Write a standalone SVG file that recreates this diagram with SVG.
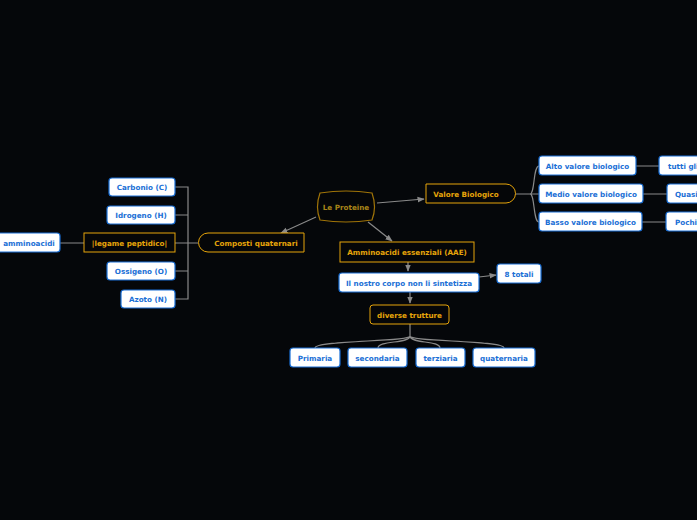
<svg xmlns="http://www.w3.org/2000/svg" width="697" height="520" viewBox="0 0 697 520">
<defs>
<style>
text{font-family:"DejaVu Sans",sans-serif;font-size:7.2px;font-weight:bold;text-anchor:middle;dominant-baseline:central}
.b rect{fill:#fff;stroke:#1a6fd6;stroke-width:1.2}
.b text{fill:#1a6fd6}
.g rect,.g path{fill:#050608;stroke:#e6a40a;stroke-width:1}
.g text{fill:#e6a40a}
.c{fill:none;stroke:#8a8a8a;stroke-width:1.2}
</style>
<marker id="a" viewBox="0 0 10 10" refX="9" refY="5" markerWidth="6" markerHeight="6" orient="auto"><path d="M0,1 L10,5 L0,9z" fill="#8a8a8a"/></marker>
</defs>
<rect width="697" height="520" fill="#05070a"/>
<g id="connectors" class="c">
<path d="M377,203 L424,199" marker-end="url(#a)"/>
<path d="M316,217 L281,233" marker-end="url(#a)"/>
<path d="M368,222 L392,241" marker-end="url(#a)"/>
<path d="M408,262 L408,271" marker-end="url(#a)"/>
<path d="M479,277 L496,275" marker-end="url(#a)"/>
<path d="M410,292 L410,303" marker-end="url(#a)"/>
<path d="M515,194 L530,194 M530,194 C535,194 533,166 539,166 M530,194 L539,194 M530,194 C535,194 533,222 539,222"/>
<path d="M636,166 L659,166 M643,194 L667,194 M642,222 L666,222"/>
<path d="M198,243 L188,243 M175,187 L188,187 L188,299 L175,299 M175,215 L188,215 M175,271 L188,271 M175,243 L188,243 M84,243 L60,243"/>
<path d="M410,324 L410,336 C410,342 315,340 315,348 M410,336 C410,344 378,340 378,348 M410,336 C410,344 440,340 440,348 M410,336 C410,342 504,340 504,348"/>
</g>
<g id="n-proteine"><path d="M320,193 Q346,189 372,193 Q377,207 372,220 Q346,224 320,220 Q315,207 320,193z" fill="#050608" stroke="#a07408" stroke-width="1.2"/><text x="346" y="207" fill="#a88418">Le Proteine</text></g>
<g id="n-valore" class="g"><path d="M426,184 H506 A9.5,9.5 0 0 1 506,203 H426z"/><text x="466" y="194">Valore Biologico</text></g>
<g id="n-alto" class="b"><rect x="539" y="156" width="97" height="19" rx="3"/><text x="587.5" y="166">Alto valore biologico</text></g>
<g id="n-medio" class="b"><rect x="539" y="184" width="104" height="19" rx="3"/><text x="591" y="194">Medio valore biologico</text></g>
<g id="n-basso" class="b"><rect x="539" y="212" width="103" height="19" rx="3"/><text x="590.5" y="222">Basso valore biologico</text></g>
<g id="n-tutti" class="b"><rect x="659" y="156" width="60" height="19" rx="3"/><text x="668" y="166" style="text-anchor:start">tutti gli</text></g>
<g id="n-quasi" class="b"><rect x="667" y="184" width="60" height="19" rx="3"/><text x="675" y="194" style="text-anchor:start">Quasi</text></g>
<g id="n-pochi" class="b"><rect x="666" y="212" width="60" height="19" rx="3"/><text x="675" y="222" style="text-anchor:start">Pochi</text></g>
<g id="n-composti" class="g"><path d="M208,233 H304 V252 H208 A9.5,9.5 0 0 1 208,233z"/><text x="256" y="243">Composti quaternari</text></g>
<g id="n-legame" class="g"><rect x="84" y="233" width="91" height="19"/><text x="129.5" y="243">|legame peptidico|</text></g>
<g id="n-ammino" class="b"><rect x="-6" y="233" width="66" height="19" rx="3"/><text x="29" y="243">amminoacidi</text></g>
<g id="n-c" class="b"><rect x="109" y="178" width="66" height="18" rx="3"/><text x="142" y="187">Carbonio (C)</text></g>
<g id="n-h" class="b"><rect x="107" y="206" width="68" height="18" rx="3"/><text x="141" y="215">Idrogeno (H)</text></g>
<g id="n-o" class="b"><rect x="107" y="262" width="68" height="18" rx="3"/><text x="141" y="271">Ossigeno (O)</text></g>
<g id="n-n" class="b"><rect x="121" y="290" width="54" height="18" rx="3"/><text x="148" y="299">Azoto (N)</text></g>
<g id="n-aae" class="g"><rect x="340" y="242" width="134" height="20"/><text x="407" y="252">Amminoacidi essenziali (AAE)</text></g>
<g id="n-corpo" class="b"><rect x="339" y="273" width="140" height="19" rx="3"/><text x="409" y="283">Il nostro corpo non li sintetizza</text></g>
<g id="n-8" class="b"><rect x="497" y="264" width="44" height="19" rx="3"/><text x="519" y="274">8 totali</text></g>
<g id="n-diverse" class="g"><rect x="370" y="305" width="79" height="19" rx="3"/><text x="409.5" y="315">diverse trutture</text></g>
<g id="n-prim" class="b"><rect x="290" y="348" width="50" height="19" rx="3"/><text x="315" y="358">Primaria</text></g>
<g id="n-sec" class="b"><rect x="348" y="348" width="59" height="19" rx="3"/><text x="377.5" y="358">secondaria</text></g>
<g id="n-ter" class="b"><rect x="416" y="348" width="49" height="19" rx="3"/><text x="440.5" y="358">terziaria</text></g>
<g id="n-quat" class="b"><rect x="473" y="348" width="62" height="19" rx="3"/><text x="504" y="358">quaternaria</text></g>
</svg>
